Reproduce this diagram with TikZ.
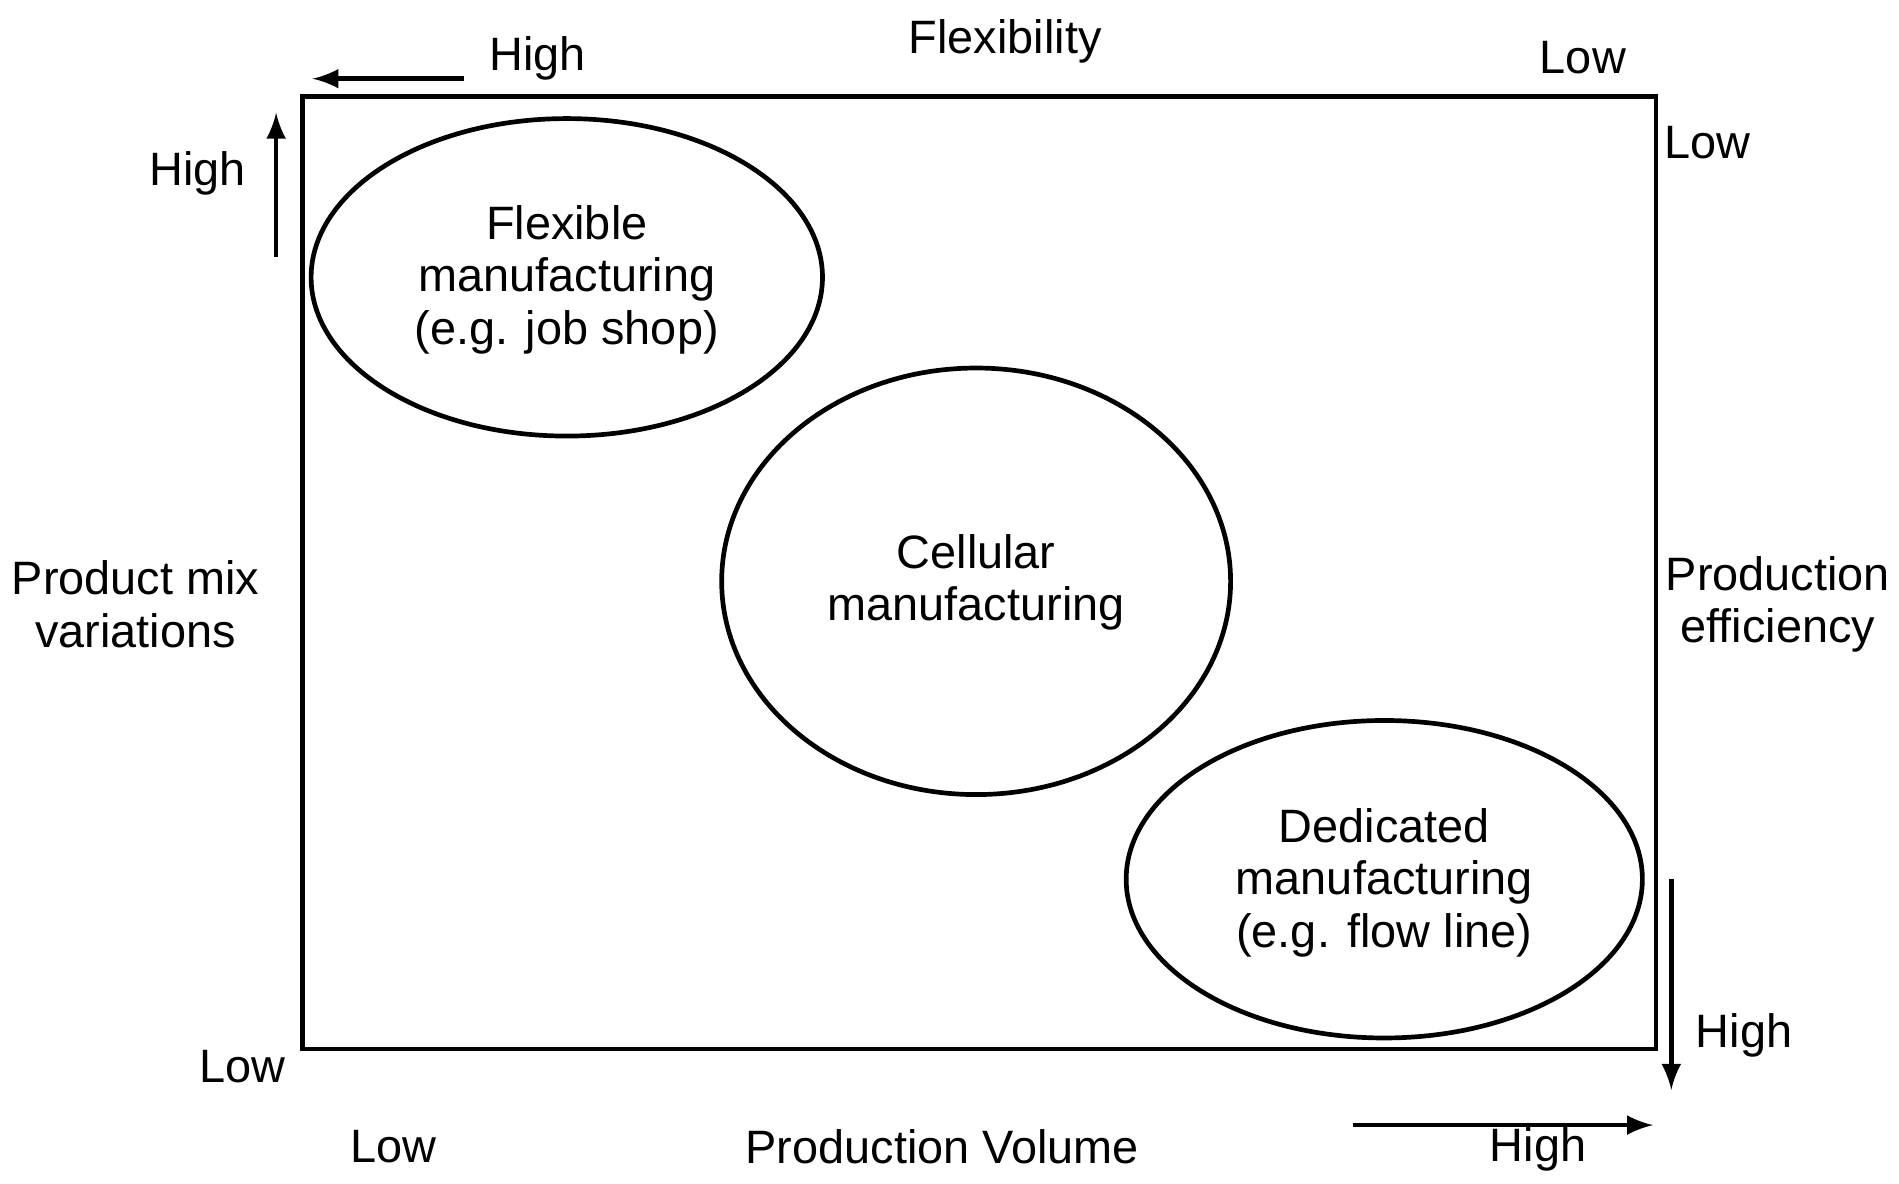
\documentclass[tikz,border=0pt]{standalone}
\usepackage{fontspec}
\setmainfont{Liberation Sans}
\usetikzlibrary{shapes.geometric}
\begin{document}
\begin{tikzpicture}[x=0.01cm,y=-0.01cm,
  lbl/.style={font=\fontsize{11}{12.3}\selectfont,align=center,inner sep=0pt},
  outl/.style={draw,line width=1.1pt},
  arr/.style={-latex,line width=1.1pt}]
\useasboundingbox (0,0) rectangle (1568,977);
\node[outl,rectangle,minimum width=11.17cm,minimum height=7.86cm,inner sep=0pt] (frame) at (808.5,473) {};
\node[outl,ellipse,minimum width=4.22cm,minimum height=2.62cm,inner sep=0pt] (e1) at (468,229) {};
\node[lbl] at (468,231) {Flexible\\manufacturing\\(e.g. job shop)};
\node[outl,ellipse,minimum width=4.2cm,minimum height=3.52cm,inner sep=0pt] (e2) at (806,480) {};
\node[lbl] at (806,481) {Cellular\\manufacturing};
\node[outl,ellipse,minimum width=4.26cm,minimum height=2.62cm,inner sep=0pt] (e3) at (1143,726) {};
\node[lbl] at (1143,729) {Dedicated\\manufacturing\\(e.g. flow line)};
\coordinate (ta) at (383,65); \coordinate (tb) at (258,65);
\draw[arr] (ta) -- (tb);
\node[lbl] (th) at (444,48) {High};
\node[lbl] (tf) at (830,34) {Flexibility};
\node[lbl] (tl) at (1307,48) {Low};
\coordinate (la) at (228,212); \coordinate (lb) at (228,93);
\draw[arr] (la) -- (lb);
\node[lbl] (lh) at (163,143) {High};
\node[lbl] (lp) at (112,499) {Product mix\\variations};
\node[lbl] (ll) at (200,881) {Low};
\node[lbl] (rl) at (1410,118) {Low};
\node[lbl] (rp) at (1468,499) {Production\\efficiency};
\coordinate (ra) at (1380,726); \coordinate (rb) at (1380,900);
\draw[arr] (ra) -- (rb);
\node[lbl] (rh) at (1440,855) {High};
\node[lbl] (bl) at (325,947) {Low};
\node[lbl] (bp) at (778,947) {Production Volume};
\coordinate (ba) at (1117,929); \coordinate (bb) at (1365,929);
\draw[arr] (ba) -- (bb);
\node[lbl] (bh) at (1270,949) {High};
\end{tikzpicture}
\end{document}
